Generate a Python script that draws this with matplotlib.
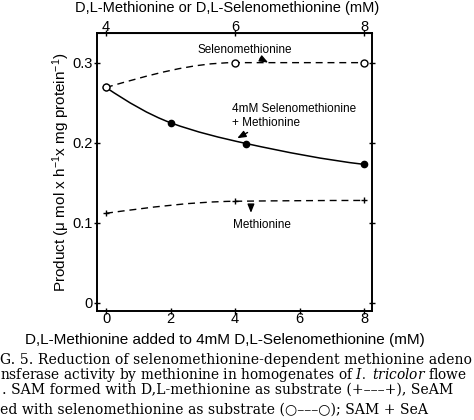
import numpy as np
import matplotlib
matplotlib.use("Agg")
import matplotlib.pyplot as plt
from matplotlib.path import Path
from matplotlib.patches import PathPatch

# ---- data (bottom axis: D,L-methionine added, mM) ----
se_x = [0, 4, 8]
se_y = [0.269, 0.300, 0.300]
mix_x = [0, 2, 4.35, 8]
mix_y = [0.269, 0.225, 0.199, 0.173]
met_x = [0, 4, 8]
met_y = [0.112, 0.127, 0.128]
bottom_ticks = [0, 2, 4, 6, 8]
top_ticks = [4, 6, 8]
y_ticks = [0, 0.1, 0.2, 0.3]
y_ticklabels = ["0", "0.1", "0.2", "0.3"]

SANS = ["Liberation Sans", "DejaVu Sans"]
SERIF = ["DejaVu Serif", "Liberation Serif"]
plt.rcParams["font.family"] = SANS
plt.rcParams["mathtext.fontset"] = "custom"
plt.rcParams["mathtext.rm"] = "Liberation Sans"
plt.rcParams["mathtext.it"] = "DejaVu Serif:italic"


def pchip_slopes(x, y):
    x = np.asarray(x, float); y = np.asarray(y, float)
    h = np.diff(x); m = np.diff(y) / h
    n = len(x); d = np.zeros(n)
    for k in range(1, n - 1):
        if m[k - 1] * m[k] <= 0:
            d[k] = 0.0
        else:
            w1 = 2 * h[k] + h[k - 1]; w2 = h[k] + 2 * h[k - 1]
            d[k] = (w1 + w2) / (w1 / m[k - 1] + w2 / m[k])

    def edge(h0, h1, m0, m1):
        dd = ((2 * h0 + h1) * m0 - h0 * m1) / (h0 + h1)
        if np.sign(dd) != np.sign(m0):
            dd = 0.0
        elif np.sign(m0) != np.sign(m1) and abs(dd) > abs(3 * m0):
            dd = 3 * m0
        return dd
    if n > 2:
        d[0] = edge(h[0], h[1], m[0], m[1])
        d[-1] = edge(h[-1], h[-2], m[-1], m[-2])
    else:
        d[:] = m[0]
    return d


def smooth_path(x, y):
    d = pchip_slopes(x, y)
    verts = [(x[0], y[0])]; codes = [Path.MOVETO]
    for i in range(len(x) - 1):
        h = x[i + 1] - x[i]
        verts += [(x[i] + h / 3, y[i] + d[i] * h / 3),
                  (x[i + 1] - h / 3, y[i + 1] - d[i + 1] * h / 3),
                  (x[i + 1], y[i + 1])]
        codes += [Path.CURVE4] * 3
    return Path(verts, codes)


fig = plt.figure(figsize=(4.74, 4.20), dpi=100)
ax = fig.add_axes([0.2046, 0.2595, 0.5802, 0.6619])
ax.set_xlim(-0.28, 8.24)
ax.set_ylim(-0.01, 0.337)

dash = (0, (5, 3.5))
ax.add_patch(PathPatch(smooth_path(se_x, se_y), fill=False, lw=1.0,
                       ls=dash, color="black"))
ax.add_patch(PathPatch(smooth_path(mix_x, mix_y), fill=False, lw=1.1,
                       color="black"))
ax.add_patch(PathPatch(smooth_path(met_x, met_y), fill=False, lw=1.0,
                       ls=dash, color="black"))

ax.plot(mix_x, mix_y, ls="none", marker="o", ms=4.5, color="black")
ax.plot(se_x, se_y, ls="none", marker="o", ms=5, mfc="white",
        mec="black", mew=1.0)
ax.plot(met_x, met_y, ls="none", marker="+", ms=5, mew=1.0, color="black")

ax.set_xticks(bottom_ticks)
ax.set_xticklabels([str(t) for t in bottom_ticks])
ax.set_yticks(y_ticks)
ax.set_yticklabels(y_ticklabels)
ax.tick_params(axis="both", direction="inout", length=4, width=1.0,
               labelsize=10.5, right=True)
ax.tick_params(axis="x", pad=-1)
ax.tick_params(axis="y", pad=1)
for s in ax.spines.values():
    s.set_linewidth(1.4)

sec = ax.secondary_xaxis("top", functions=(lambda x: 4 + x / 2,
                                           lambda t: (t - 4) * 2))
sec.set_xticks(top_ticks)
sec.set_xticklabels([str(t) for t in top_ticks])
sec.tick_params(direction="inout", length=4, width=1.0, labelsize=10.5, pad=-3)

ax.set_xlabel("D,L-Methionine added to 4mM D,L-Selenomethionine (mM)",
              fontsize=11, labelpad=5)
ax.xaxis.label.set_x(0.465)
ax.set_ylabel("Product (\u03bc mol x h$^{-1}$x mg protein$^{-1}$)",
              fontsize=11, labelpad=0)
fig.text(0.479, 0.981, "D,L-Methionine or D,L-Selenomethionine (mM)",
         ha="center", va="center", fontsize=10.5)

# annotations
ax.text(4.3, 0.316, "Selenomethionine", ha="center", va="center", fontsize=8.5)
ax.annotate("", xy=(5.1, 0.2985), xytext=(4.7, 0.307),
            arrowprops=dict(arrowstyle="-|>,head_length=0.5,head_width=0.2",
                            lw=1.0, color="black"))
ax.text(3.9, 0.233, "4mM Selenomethionine\n+ Methionine", ha="left",
        va="center", fontsize=8.5, linespacing=1.25)
ax.annotate("", xy=(3.99, 0.204), xytext=(4.46, 0.2145),
            arrowprops=dict(arrowstyle="-|>,head_length=0.5,head_width=0.2",
                            lw=1.0, color="black"))
ax.text(4.83, 0.0975, "Methionine", ha="center", va="center", fontsize=8.5)
ax.annotate("", xy=(4.49, 0.109), xytext=(4.49, 0.126),
            arrowprops=dict(arrowstyle="-|>,head_length=0.5,head_width=0.2",
                            lw=1.0, color="black"))

# caption (visible part of the cropped figure legend)
cap = [
    (0, "G. 5. Reduction of selenomethionine-dependent methionine adeno", 364, 10.1),
    (0, "nsferase activity by methionine in homogenates of $I.\\ tricolor$ flowe", 379, 9.9),
    (2, ". SAM formed with D,L-methionine as substrate (+\u2013\u2013\u2013+), SeAM", 394, 10.1),
    (0, "ed with selenomethionine as substrate (\u25cb\u2013\u2013\u2013\u25cb); SAM + SeA", 414, 10.1),
]
for xpx, txt, ypx, fs in cap:
    fig.text(xpx / 474, 1 - ypx / 420, txt, ha="left", va="baseline",
             fontsize=fs, family=SERIF)

fig.savefig("out.png", dpi=100)
